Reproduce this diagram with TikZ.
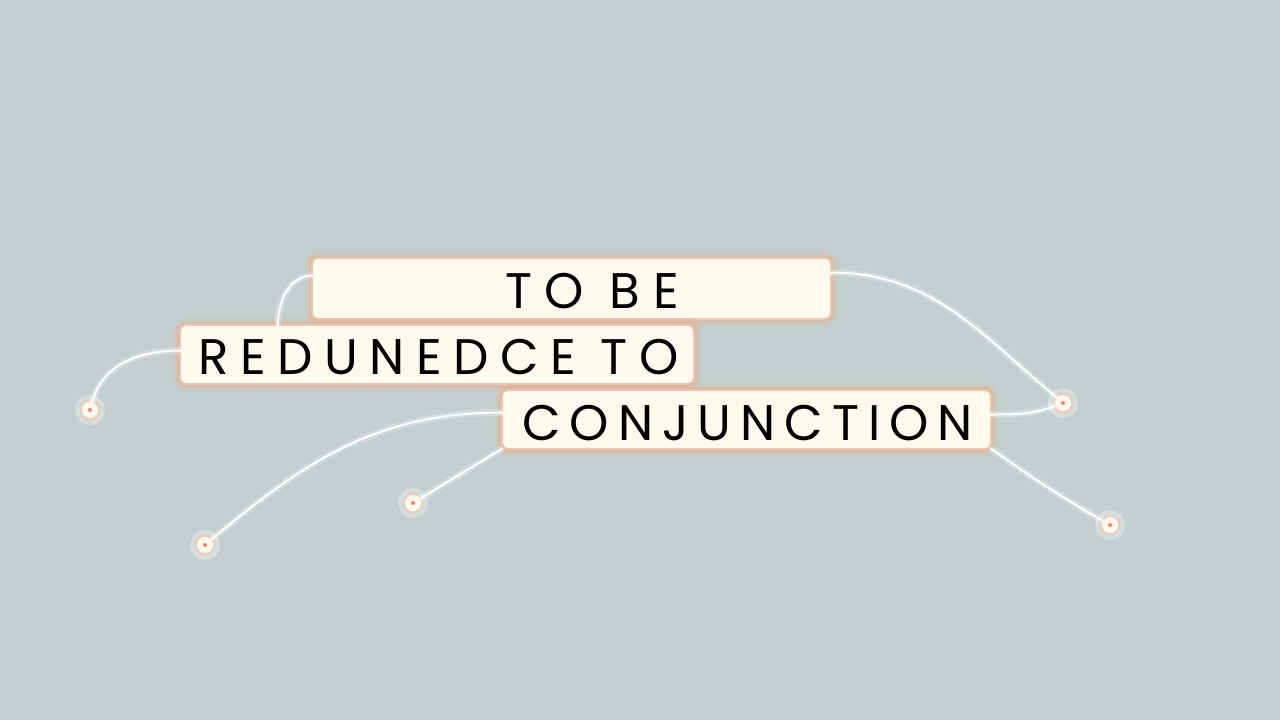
\documentclass[tikz,border=0pt]{standalone}
\usepackage{fontspec}
\newfontfamily\capsfont{Poppins}
\usetikzlibrary{calc}
\definecolor{backgr}{HTML}{C3D0CF}
\definecolor{cream}{HTML}{FFF9EE}
\definecolor{glow}{HTML}{F7A57C}
\tikzset{
  wordbox/.style={draw=none, fill=cream, rounded corners=5pt, inner sep=0pt,
    preaction={draw=glow, line width=16pt, opacity=0.15},
    preaction={draw=glow, line width=9pt, opacity=0.3},
    preaction={draw=glow!60!white, line width=4pt, opacity=0.6}},
  word/.style={anchor=base west, inner sep=0pt,
    font=\capsfont\addfontfeature{LetterSpace=#1}\fontsize{50}{60}\selectfont},
  wire/.style={draw=white, line width=2pt,
    preaction={draw=white, line width=7pt, opacity=0.25}},
  pin/.style={circle, fill=cream, minimum size=16pt, inner sep=0pt,
    preaction={draw=white, line width=14pt, opacity=0.3},
    preaction={draw=glow!70!white, line width=5pt, opacity=0.5}}
}
\begin{document}
\begin{tikzpicture}[x=1pt,y=-1pt]
\fill[backgr] (0,0) rectangle (1280,720);
\useasboundingbox (0,0) rectangle (1280,720);
% boxes
\node[wordbox, minimum width=517pt, minimum height=59pt] (tobe) at (571.5,288.5) {};
\node[wordbox, minimum width=512pt, minimum height=57pt] (redu) at (437,354.5) {};
\node[wordbox, minimum width=487pt, minimum height=57pt] (conj) at (746.5,419.5) {};
% texts
\node[word=25] (tobetxt) at (505,308) {TO BE};
\node[word=23] (redutxt) at (198,374) {REDUNEDCE TO};
\node[word=18] (conjtxt) at (522,440) {CONJUNCTION};
% end points
\foreach \n/\x/\y in {d1/90/410, d2/205/545, d3/413/503, d4/1063/403, d5/1110/525}
  \node[pin] (\n) at (\x,\y) {};
% wires
\draw[wire] ($(tobe.west)+(0,-13)$) to[out=180,in=90] ($(redu.north west)+(97,0)$);
\draw[wire] ($(redu.west)+(0,-4)$) to[out=180,in=75] (d1);
\draw[wire] ($(tobe.east)+(0,-16)$) to[out=0,in=140] (d4);
\draw[wire] ($(conj.east)+(0,-5)$) to[out=0,in=-160] (d4);
\draw[wire] (conj.south east) to[out=-35,in=150] (d5);
\draw[wire] ($(conj.west)+(0,-7)$) to[out=180,in=40] (d2);
\draw[wire] (conj.south west) -- (d3);
\foreach \n in {d1,d2,d3,d4,d5}
  \fill[glow!80!red] (\n) circle (2pt);
\end{tikzpicture}
\end{document}
